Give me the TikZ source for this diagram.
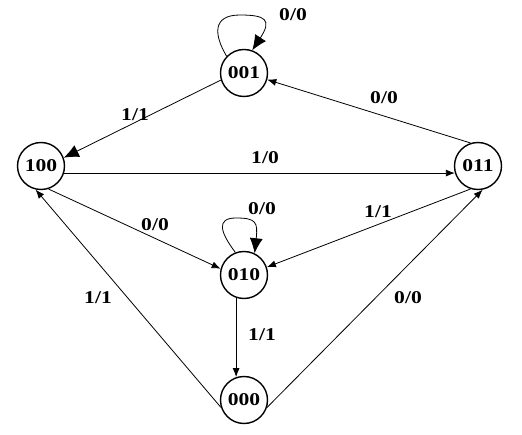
\documentclass[tikz,border=0pt]{standalone}
\usepackage{fontspec}
\usepackage{graphicx}
\setmainfont{Liberation Serif}
\usetikzlibrary{arrows.meta}
\newcommand{\wtext}[1]{\scalebox{1.2}[1]{#1}}
\begin{document}
\begin{tikzpicture}[x=1pt,y=-1pt,
  state/.style={circle,draw,line width=1.4pt,minimum size=47pt,inner sep=0pt,font=\fontsize{18}{20}\selectfont\bfseries},
  lbl/.style={font=\fontsize{18}{20}\selectfont\bfseries,inner sep=0pt},
  edge/.style={line width=0.8pt,-{Latex[length=9pt,width=7pt]}},
  bigedge/.style={line width=0.8pt,-{Latex[length=15pt,width=13pt]}}]
\useasboundingbox (0,0) rectangle (522,435);
\node[state] (s001) at (244,73) {\wtext{001}};
\node[state] (s100) at (41,166) {\wtext{100}};
\node[state] (s011) at (478,166) {\wtext{011}};
\node[state] (s010) at (244,275) {\wtext{010}};
\node[state] (s000) at (244,400) {\wtext{000}};
% edges
\draw[bigedge] (s001.136) .. controls (214,35) and (212,15) .. (240,15) .. controls (266,15) and (272,20) .. (s001.70);
\draw[bigedge] (s001.-163) -- (s100.20);
\draw[edge] (s011.108) -- (s001.-16);
\draw[edge] (s100.-17) -- (s011.197);
\draw[edge] (s100.-72) -- (s010.165);
\draw[edge] (s011.-108) -- (s010.19);
\draw[bigedge] (s010.111) .. controls (220,232) and (216,218) .. (236,218) .. controls (256,218) and (258,222) .. (s010.64);
\draw[edge] (s010.-109) -- (s000.109);
\draw[edge] (s000.198) -- (s100.-103);
\draw[edge] (s000.-18) -- (s011.-79);
% labels
\node[lbl] (l1) at (293,15) {\wtext{0/0}};
\node[lbl] (l2) at (135,115) {\wtext{1/1}};
\node[lbl] (l3) at (384,98) {\wtext{0/0}};
\node[lbl] (l4) at (265,158) {\wtext{1/0}};
\node[lbl] (l5) at (155,225) {\wtext{0/0}};
\node[lbl] (l6) at (378,212) {\wtext{1/1}};
\node[lbl] (l7) at (262,209) {\wtext{0/0}};
\node[lbl] (l8) at (262,335) {\wtext{1/1}};
\node[lbl] (l9) at (98,298) {\wtext{1/1}};
\node[lbl] (l10) at (408,298) {\wtext{0/0}};
\end{tikzpicture}
\end{document}
